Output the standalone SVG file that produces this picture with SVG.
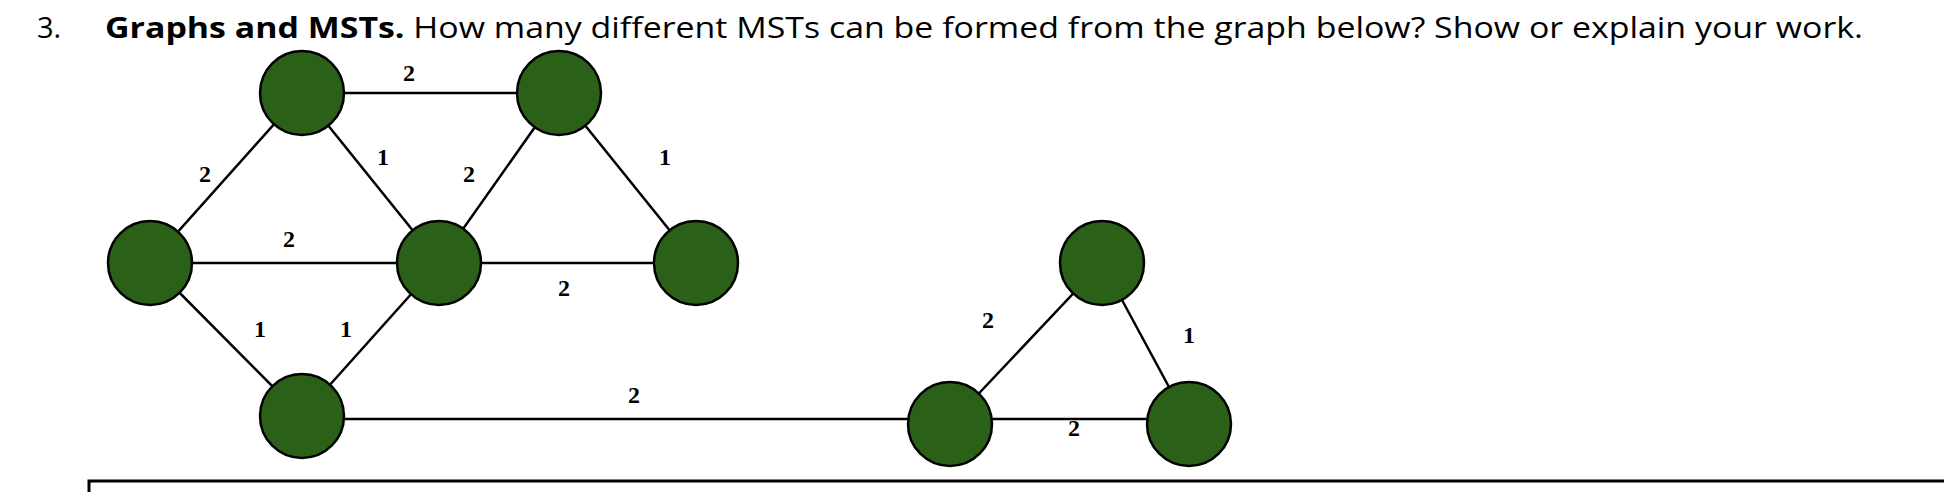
<svg xmlns="http://www.w3.org/2000/svg" width="1944" height="492" viewBox="0 0 1944 492">
<style>
.n{fill:#2b6019;stroke:#000;stroke-width:2.5}
.e{stroke:#000;stroke-width:2.5}
.w{font-family:"Liberation Serif",serif;font-weight:bold;font-size:24px;text-anchor:middle}
.t{font-family:"Open Sans","Liberation Sans",sans-serif;font-size:29px}
</style>
<rect width="1944" height="492" fill="#fff"/>
<text class="t" x="37" y="38">3.</text>
<text class="t" x="105" y="38" textLength="1758" lengthAdjust="spacingAndGlyphs"><tspan font-weight="bold">Graphs and MSTs.</tspan> How many different MSTs can be formed from the graph below? Show or explain your work.</text>
<path d="M89 492V481H1944" fill="none" stroke="#000" stroke-width="3"/>
<g id="edges">
<line class="e" x1="302" y1="93" x2="559" y2="93"/>
<line class="e" x1="302" y1="93" x2="150" y2="263"/>
<line class="e" x1="302" y1="93" x2="439" y2="263"/>
<line class="e" x1="559" y1="93" x2="439" y2="263"/>
<line class="e" x1="559" y1="93" x2="696" y2="263"/>
<line class="e" x1="150" y1="263" x2="696" y2="263"/>
<line class="e" x1="150" y1="263" x2="302" y2="416"/>
<line class="e" x1="439" y1="263" x2="302" y2="416"/>
<line class="e" x1="302" y1="419" x2="950" y2="419"/>
<line class="e" x1="950" y1="424" x2="1102" y2="263"/>
<line class="e" x1="1102" y1="263" x2="1189" y2="424"/>
<line class="e" x1="950" y1="419" x2="1189" y2="419"/>
</g>
<g id="labels">
<text class="w" x="409" y="81">2</text>
<text class="w" x="205" y="182">2</text>
<text class="w" x="383" y="165">1</text>
<text class="w" x="469" y="182">2</text>
<text class="w" x="665" y="165">1</text>
<text class="w" x="289" y="247">2</text>
<text class="w" x="564" y="296">2</text>
<text class="w" x="260" y="337">1</text>
<text class="w" x="346" y="337">1</text>
<text class="w" x="988" y="328">2</text>
<text class="w" x="1189" y="343">1</text>
<text class="w" x="634" y="403">2</text>
<text class="w" x="1074" y="436">2</text>
</g>
<g id="nA"><circle class="n" cx="302" cy="93" r="42"/></g>
<g id="nB"><circle class="n" cx="559" cy="93" r="42"/></g>
<g id="nC"><circle class="n" cx="150" cy="263" r="42"/></g>
<g id="nD"><circle class="n" cx="439" cy="263" r="42"/></g>
<g id="nE"><circle class="n" cx="696" cy="263" r="42"/></g>
<g id="nF"><circle class="n" cx="302" cy="416" r="42"/></g>
<g id="nG"><circle class="n" cx="1102" cy="263" r="42"/></g>
<g id="nH"><circle class="n" cx="950" cy="424" r="42"/></g>
<g id="nI"><circle class="n" cx="1189" cy="424" r="42"/></g>
</svg>
